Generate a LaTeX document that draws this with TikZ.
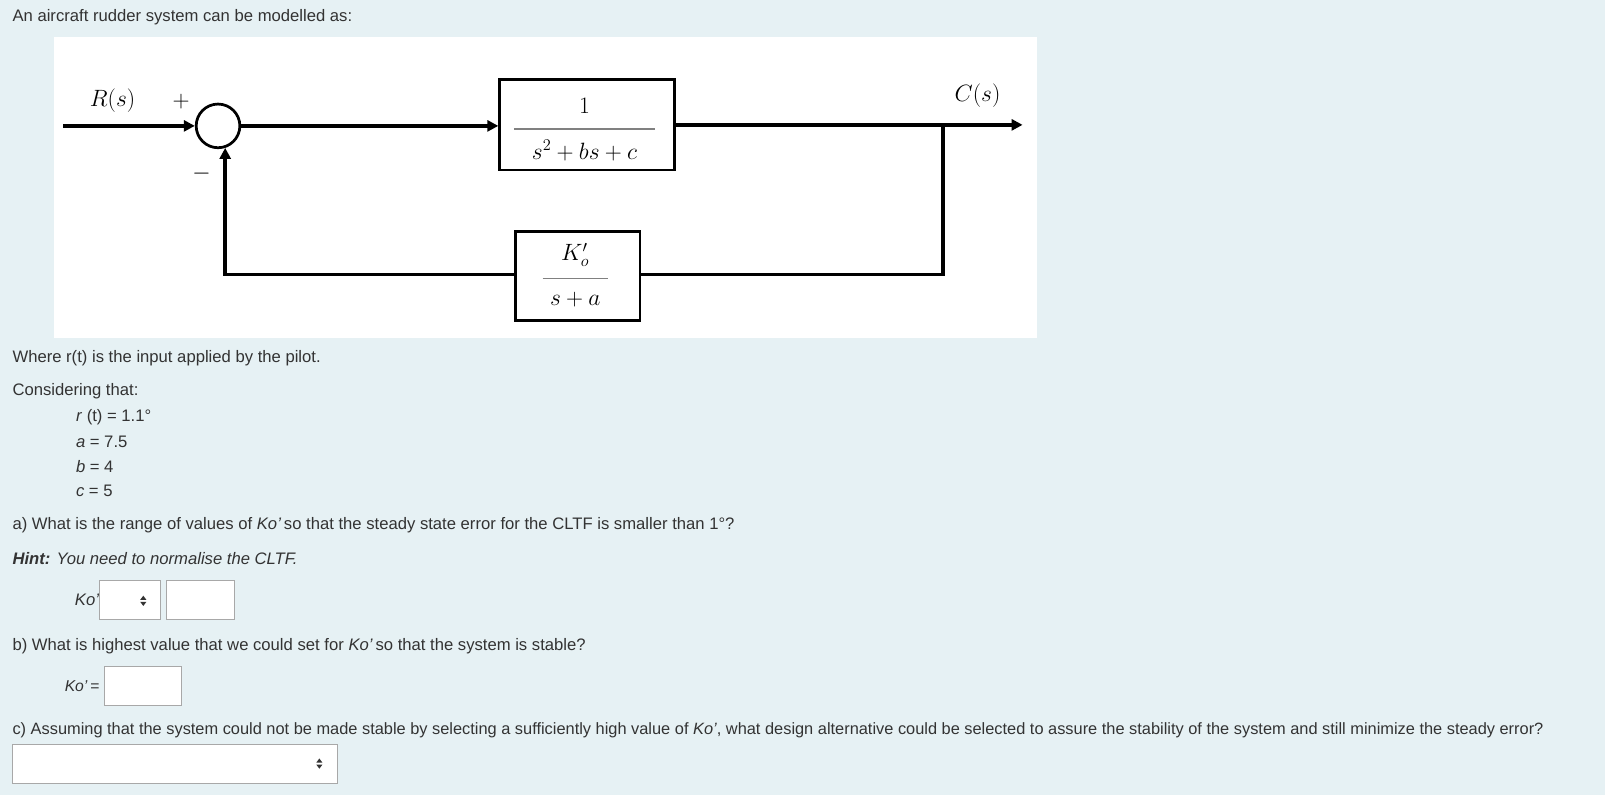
\documentclass[tikz,border=0pt]{standalone}
\usepackage{fontspec}
\setmainfont{Liberation Sans}
\usetikzlibrary{arrows.meta}
\definecolor{bg}{HTML}{E6F1F4}
\definecolor{txt}{HTML}{333333}
\definecolor{fb}{HTML}{A8A8A8}
\begin{document}
\begin{tikzpicture}[x=0.75pt,y=-0.75pt,
  lbl/.style={anchor=west,inner sep=0,text=txt,font=\fontsize{12.2}{14}\selectfont},
  blk/.style={draw,line width=2pt,inner sep=0},
  wire/.style={line width=2.6pt},
  arr/.style={wire,-{Triangle[length=8pt,width=8pt]}},
  field/.style={draw=fb,fill=white,line width=0.6pt},
  dmath/.style={font=\fontsize{18}{20}\selectfont},
  spin/.pic={\fill[txt] (-3,-1) -- (3,-1) -- (0,-5) -- cycle; \fill[txt] (-3,1) -- (3,1) -- (0,5) -- cycle;}]
\fill[bg] (0,0) rectangle (1568,777);
\useasboundingbox (0,0) rectangle (1568,777);
\fill[white] (53,36) rectangle (1013,330);
% diagram
\node[draw,circle,line width=2pt,minimum size=32pt,inner sep=0] (sum) at (213,123) {};
\coordinate (in) at (62,123);
\node[blk,minimum width=128pt,minimum height=66pt] (g) at (573.5,122) {};
\node[dmath] (gn) at (571,103) {$1$};
\node[dmath] (gd) at (571,147) {$s^2+bs+c$};
\draw[line width=0.8pt,gray] (502,126) -- (640,126);
\node[blk,minimum width=91pt,minimum height=65pt] (h) at (564.5,269.5) {};
\node[dmath] (hn) at (562,249) {$K_o'$};
\node[dmath] (hd) at (562,293) {$s+a$};
\draw[line width=0.8pt,gray] (530,272) -- (594,272);
\coordinate (out) at (999,122);
\coordinate (br) at (921,122);
\coordinate (bd) at (921,268);
\coordinate (fl) at (220,268);
\draw[arr] (in) -- (sum.west);
\draw[arr] (sum.east) -- (g.west |- sum.east);
\draw[arr] (g.east |- out) -- (out);
\draw[wire] (br) -- (bd) -- (h.east |- bd);
\draw[arr] (h.west |- fl) -- (fl) -- (220,144.5);
\node[dmath] (R) at (110,98) {$R(s)$};
\node[dmath] (plus) at (177,99) {$+$};
\node[dmath] (minus) at (197,170) {$-$};
\node[dmath] (C) at (955,93) {$C(s)$};
% text
\node[lbl] (t0) at (12,17) {An aircraft rudder system can be modelled as:};
\node[lbl] (t1) at (12,350) {Where r(t) is the input applied by the pilot.};
\node[lbl] (t2) at (12,382) {Considering that:};
\node[lbl] (t3) at (74,408) {\textit{r} (t) = 1.1°};
\node[lbl] (t4) at (74,432) {\textit{a} = 7.5};
\node[lbl] (t5) at (74,456) {\textit{b} = 4};
\node[lbl] (t6) at (74,480) {\textit{c} = 5};
\node[lbl] (qa) at (12,513) {a) What is the range of values of \textit{Ko'}\,so that the steady state error for the CLTF is smaller than 1°?};
\node[lbl] (hint) at (12,546) {\textbf{\textit{Hint:}} \textit{You need to normalise the CLTF.}};
\node[lbl] (ko1) at (73,586) {\textit{Ko'}};
\draw[field] (97,567) rectangle (157,605);
\pic at (140,587) {spin};
\draw[field] (163,567) rectangle (229,605);
\node[lbl] (qb) at (12,631) {b) What is highest value that we could set for \textit{Ko'}\,so that the system is stable?};
\node[lbl,font=\fontsize{11.5}{14}\selectfont] (ko2) at (63,670) {\textit{Ko'}\,=};
\draw[field] (102,651) rectangle (177,689);
\node[lbl,font=\fontsize{12}{14}\selectfont] (qc) at (12,713) {c) Assuming that the system could not be made stable by selecting a sufficiently high value of \textit{Ko'}, what design alternative could be selected to assure the stability of the system and still minimize the steady error?};
\draw[field] (12,727) rectangle (330,765);
\pic at (312,746) {spin};
\end{tikzpicture}
\end{document}
